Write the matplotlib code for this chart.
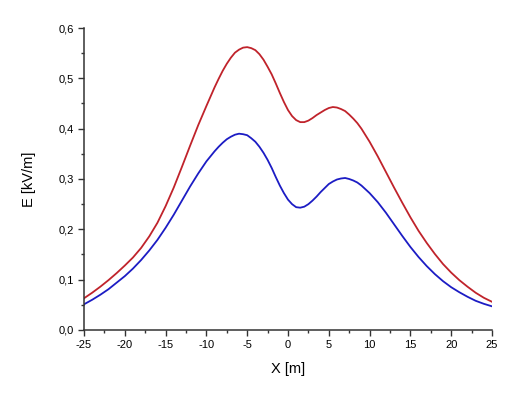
import matplotlib
matplotlib.use('Agg')
import matplotlib.pyplot as plt
from matplotlib.ticker import MultipleLocator, FuncFormatter

plt.rcParams['font.family'] = ['Liberation Sans', 'DejaVu Sans']

# Horizontal position [m] (finer steps around the peaks)
x_m = [-25, -24, -23, -22, -21, -20, -19, -18, -17, -16, -15, -14, -13,
       -12, -11, -10,
       -9, -8.5, -8, -7.5, -7, -6.5, -6, -5.5, -5, -4.5, -4, -3.5, -3,
       -2.5, -2, -1.5, -1, -0.5, 0, 0.5, 1, 1.5, 2, 2.5, 3, 3.5, 4, 4.5,
       5, 5.5, 6, 6.5, 7, 7.5, 8, 8.5, 9,
       10, 11, 12, 13, 14, 15, 16, 17, 18, 19, 20, 21, 22, 23, 24, 25]

# Electric field [kV/m], upper (red) curve
e_red = [0.063, 0.074, 0.086, 0.099, 0.113, 0.128, 0.144, 0.163, 0.186,
         0.213, 0.246, 0.283, 0.324, 0.366, 0.407, 0.445,
         0.482, 0.499, 0.515, 0.529, 0.541, 0.551, 0.557, 0.561, 0.562,
         0.560, 0.556, 0.548, 0.537, 0.523, 0.508, 0.490, 0.471, 0.453,
         0.437, 0.425, 0.417, 0.413, 0.413, 0.416, 0.421, 0.427, 0.432,
         0.437, 0.441, 0.443, 0.442, 0.439, 0.435, 0.428, 0.420, 0.411,
         0.400,
         0.374, 0.345, 0.314, 0.283, 0.253, 0.224, 0.197, 0.173, 0.151,
         0.131, 0.114, 0.099, 0.086, 0.074, 0.064, 0.056]

# Electric field [kV/m], lower (blue) curve
e_blue = [0.051, 0.060, 0.070, 0.081, 0.094, 0.107, 0.122, 0.139, 0.158,
          0.179, 0.203, 0.229, 0.257, 0.285, 0.311, 0.335,
          0.355, 0.364, 0.372, 0.379, 0.384, 0.388, 0.390, 0.389, 0.387,
          0.381, 0.374, 0.364, 0.352, 0.338, 0.322, 0.304, 0.287, 0.272,
          0.259, 0.250, 0.244, 0.243, 0.245, 0.250, 0.257, 0.265, 0.274,
          0.282, 0.290, 0.295, 0.299, 0.301, 0.302, 0.300, 0.297, 0.293,
          0.287,
          0.272, 0.254, 0.233, 0.210, 0.187, 0.165, 0.145, 0.127, 0.111,
          0.097, 0.085, 0.075, 0.066, 0.058, 0.052, 0.047]

fig = plt.figure(figsize=(5.23, 3.95), dpi=100)
ax = fig.add_axes([0.1606, 0.1646, 0.7801, 0.7645])

ax.plot(x_m, e_red, color='#c0232b', lw=1.3, solid_joinstyle='round')
ax.plot(x_m, e_blue, color='#1c1cc4', lw=1.3, solid_joinstyle='round')

ax.set_xlim(-25, 25)
ax.set_ylim(0, 0.6)
ax.xaxis.set_major_locator(MultipleLocator(5))
ax.xaxis.set_minor_locator(MultipleLocator(2.5))
ax.yaxis.set_major_locator(MultipleLocator(0.1))
ax.yaxis.set_minor_locator(MultipleLocator(0.05))

ax.xaxis.set_major_formatter(FuncFormatter(lambda v, p: f'{v:.0f}'))
ax.yaxis.set_major_formatter(FuncFormatter(lambda v, p: f'{v:.1f}'.replace('.', ',')))

for side in ('top', 'right'):
    ax.spines[side].set_visible(False)
for side in ('left', 'bottom'):
    ax.spines[side].set_linewidth(1.1)
    ax.spines[side].set_color('#333333')

ax.tick_params(which='major', direction='out', length=4.5, width=1.0,
               color='#333333', labelsize=8, pad=3)
ax.tick_params(which='minor', direction='out', length=2.5, width=1.0,
               color='#333333')

ax.set_xlabel('X [m]', fontsize=10.5, labelpad=8)
ax.set_ylabel('E [kV/m]', fontsize=10.5, labelpad=16)

fig.savefig('out.png', dpi=100)
